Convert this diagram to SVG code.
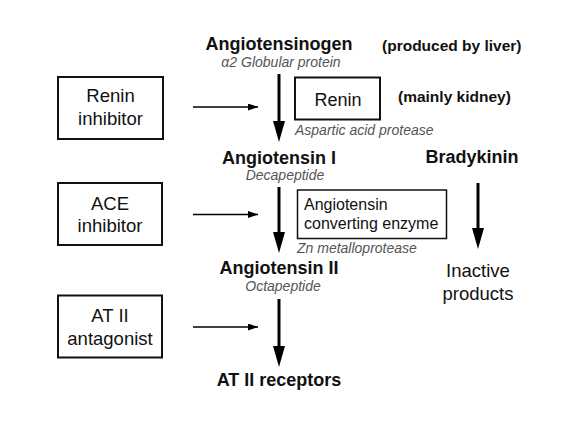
<svg xmlns="http://www.w3.org/2000/svg" width="561" height="423" viewBox="0 0 561 423">
<defs>
<style>
text{font-family:"Liberation Sans",Arial,sans-serif;fill:#111}
.t{font-weight:bold;font-size:18px;text-anchor:middle}
.n{font-weight:bold;font-size:15.5px}
.r{font-size:18.5px;text-anchor:middle}
.e{font-size:16px}
.i{font-style:italic;font-size:14px;fill:#555}
.box{fill:none;stroke:#111;stroke-width:2}
.thin{fill:none;stroke:#111;stroke-width:1.5}
.main{stroke:#000;stroke-width:3;fill:none}
.inh{stroke:#000;stroke-width:1.5;fill:none}
.head{fill:#000}
</style>
<marker id="small" viewBox="0 0 10 7" refX="10" refY="3.5" markerWidth="10" markerHeight="7" markerUnits="userSpaceOnUse" orient="auto">
<path d="M0,0 L10,3.5 L0,7 Z" fill="#000"/>
</marker>
</defs>
<rect width="561" height="423" fill="#fff"/>

<g id="connectors">
<line class="main" x1="279" y1="74" x2="279" y2="122"/>
<path class="head" d="M273,121 L285,121 L279,142 Z"/>
<line class="main" x1="279" y1="187" x2="279" y2="233"/>
<path class="head" d="M273,232 L285,232 L279,253 Z"/>
<line class="main" x1="279" y1="299" x2="279" y2="347"/>
<path class="head" d="M273,346 L285,346 L279,367 Z"/>
<line class="main" x1="478" y1="183" x2="478" y2="229"/>
<path class="head" d="M472,228 L484,228 L478,249 Z"/>
<line class="inh" x1="193" y1="107" x2="258" y2="107" marker-end="url(#small)"/>
<line class="inh" x1="193" y1="214.5" x2="258" y2="214.5" marker-end="url(#small)"/>
<line class="inh" x1="193" y1="327" x2="258" y2="327" marker-end="url(#small)"/>
</g>

<g id="angiotensinogen">
<text class="t" x="279" y="50">Angiotensinogen</text>
<text class="i" x="281" y="67" text-anchor="middle">α2 Globular protein</text>
</g>
<g id="liver-note"><text class="n" x="382" y="51">(produced by liver)</text></g>

<g id="renin">
<rect class="box" x="295" y="77.5" width="85" height="42"/>
<text class="r" x="338" y="106" style="font-size:18px">Renin</text>
<text class="i" x="295" y="135">Aspartic acid protease</text>
</g>
<g id="kidney-note"><text class="n" x="398" y="102">(mainly kidney)</text></g>

<g id="renin-inhibitor">
<rect class="box" x="58" y="77" width="105" height="62"/>
<text class="r" x="110.5" y="102">Renin</text>
<text class="r" x="110.5" y="125">inhibitor</text>
</g>

<g id="angiotensin-1">
<text class="t" x="279" y="164">Angiotensin I</text>
<text class="i" x="285" y="180" text-anchor="middle">Decapeptide</text>
</g>

<g id="bradykinin"><text class="t" x="472" y="163">Bradykinin</text></g>

<g id="ace">
<rect class="thin" x="297.5" y="190" width="149" height="48.5"/>
<text class="e" x="304" y="209.5">Angiotensin</text>
<text class="e" x="304" y="228.5">converting enzyme</text>
<text class="i" x="297" y="253">Zn metalloprotease</text>
</g>

<g id="ace-inhibitor">
<rect class="box" x="58" y="183" width="104" height="62"/>
<text class="r" x="110" y="210">ACE</text>
<text class="r" x="110" y="232">inhibitor</text>
</g>

<g id="angiotensin-2">
<text class="t" x="279" y="274">Angiotensin II</text>
<text class="i" x="283" y="291" text-anchor="middle">Octapeptide</text>
</g>

<g id="inactive">
<text class="r" x="478" y="277">Inactive</text>
<text class="r" x="478" y="300">products</text>
</g>

<g id="at2-antagonist">
<rect class="box" x="58" y="295.5" width="104" height="62"/>
<text class="r" x="110" y="322">AT II</text>
<text class="r" x="110" y="345">antagonist</text>
</g>

<g id="at2-receptors">
<text class="t" x="279" y="386">AT II receptors</text>
</g>
</svg>
